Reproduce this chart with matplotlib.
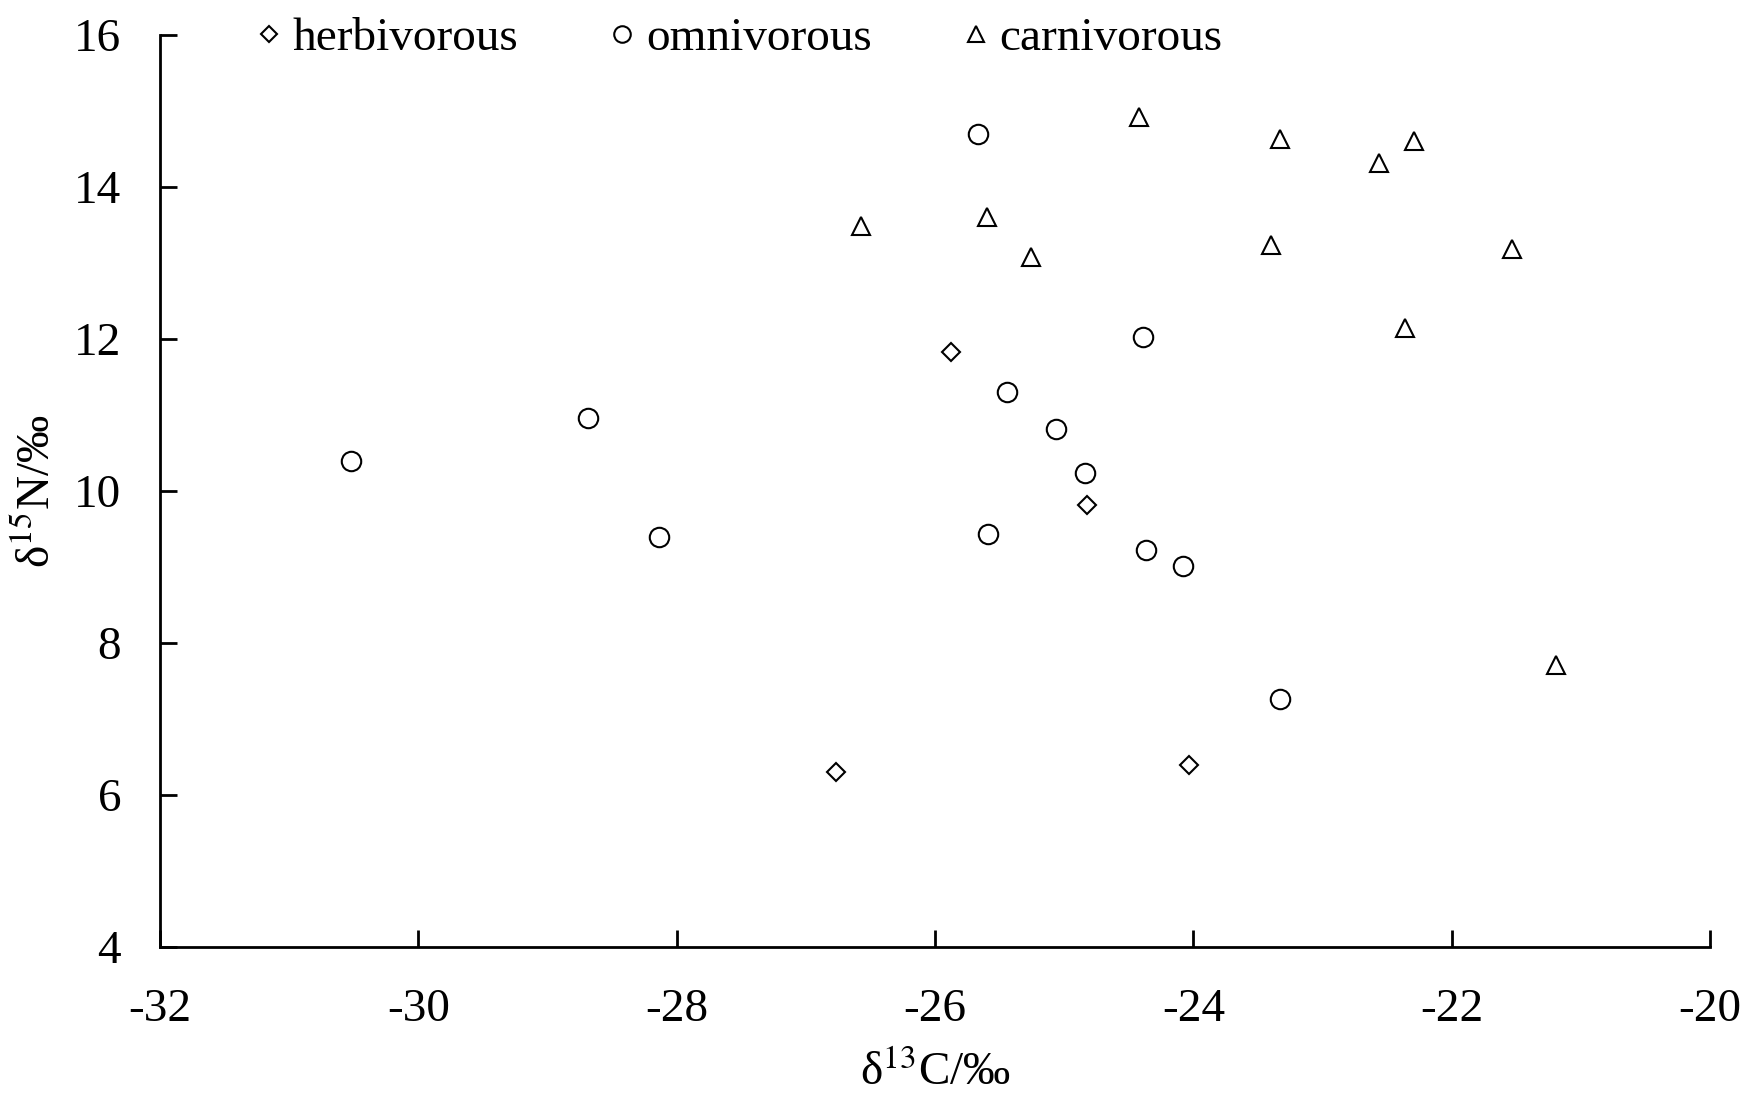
import numpy as np
import matplotlib.pyplot as plt

plt.rcParams['font.family'] = ['Liberation Serif', 'DejaVu Serif']
plt.rcParams['mathtext.fontset'] = 'stix'
plt.rcParams['xtick.direction'] = 'in'
plt.rcParams['ytick.direction'] = 'in'

# herbivorous
herb_c = [-25.88, -24.82, -26.77, -24.03]
herb_n = [11.83, 9.82, 6.30, 6.39]

# omnivorous
omni_c = [-30.52, -28.69, -28.14, -25.67, -25.44, -25.06, -24.84, -25.59,
          -24.39, -24.37, -24.08, -23.33]
omni_n = [10.40, 10.96, 9.40, 14.70, 11.30, 10.81, 10.24, 9.44,
          12.02, 9.22, 9.01, 7.26]

# carnivorous
carn_c = [-24.42, -23.33, -22.56, -22.29, -26.57, -25.60, -25.26, -23.40,
          -21.53, -22.36, -21.19]
carn_n = [14.92, 14.63, 14.32, 14.60, 13.49, 13.60, 13.08, 13.24,
          13.18, 12.14, 7.71]

fs = 34

fig = plt.figure(figsize=(17.58, 11.08), dpi=100)
ax = fig.add_axes([160 / 1758, 1 - 947 / 1108, 1550 / 1758, 912 / 1108])

ax.plot(herb_c, herb_n, 'D', ms=9, mfc='white', mec='black', mew=1.5,
        label='herbivorous', clip_on=False)
ax.plot(omni_c, omni_n, 'o', ms=14, mfc='white', mec='black', mew=1.5,
        label='omnivorous', clip_on=False)
ax.plot(carn_c, carn_n, '^', ms=13, mfc='white', mec='black', mew=1.5,
        label='carnivorous', clip_on=False)

ax.set_xlim(-32, -20)
ax.set_ylim(4, 16)
ax.set_xticks(np.arange(-32, -19, 2))
ax.set_yticks(np.arange(4, 17, 2))
ax.set_xticklabels([str(v) for v in range(-32, -19, 2)])

for s in ['top', 'right']:
    ax.spines[s].set_visible(False)
for s in ['left', 'bottom']:
    ax.spines[s].set_linewidth(2)

ax.tick_params(direction='in', length=12, width=2, labelsize=fs)
ax.tick_params(axis='x', pad=30)
ax.tick_params(axis='y', pad=28)

ax.set_xlabel(r'δ$^{\mathrm{13}}$C/‰', fontsize=fs, labelpad=14)
ax.set_ylabel(r'δ$^{\mathrm{15}}$N/‰', fontsize=fs, labelpad=10)

ax.legend(loc='center left', bbox_to_anchor=(0.0613, 0.996), ncol=3,
          frameon=False, fontsize=fs, markerscale=0.85, handlelength=0.6,
          handletextpad=0.2, columnspacing=1.9, borderpad=0,
          borderaxespad=0)

fig.savefig('out.png', dpi=100)
